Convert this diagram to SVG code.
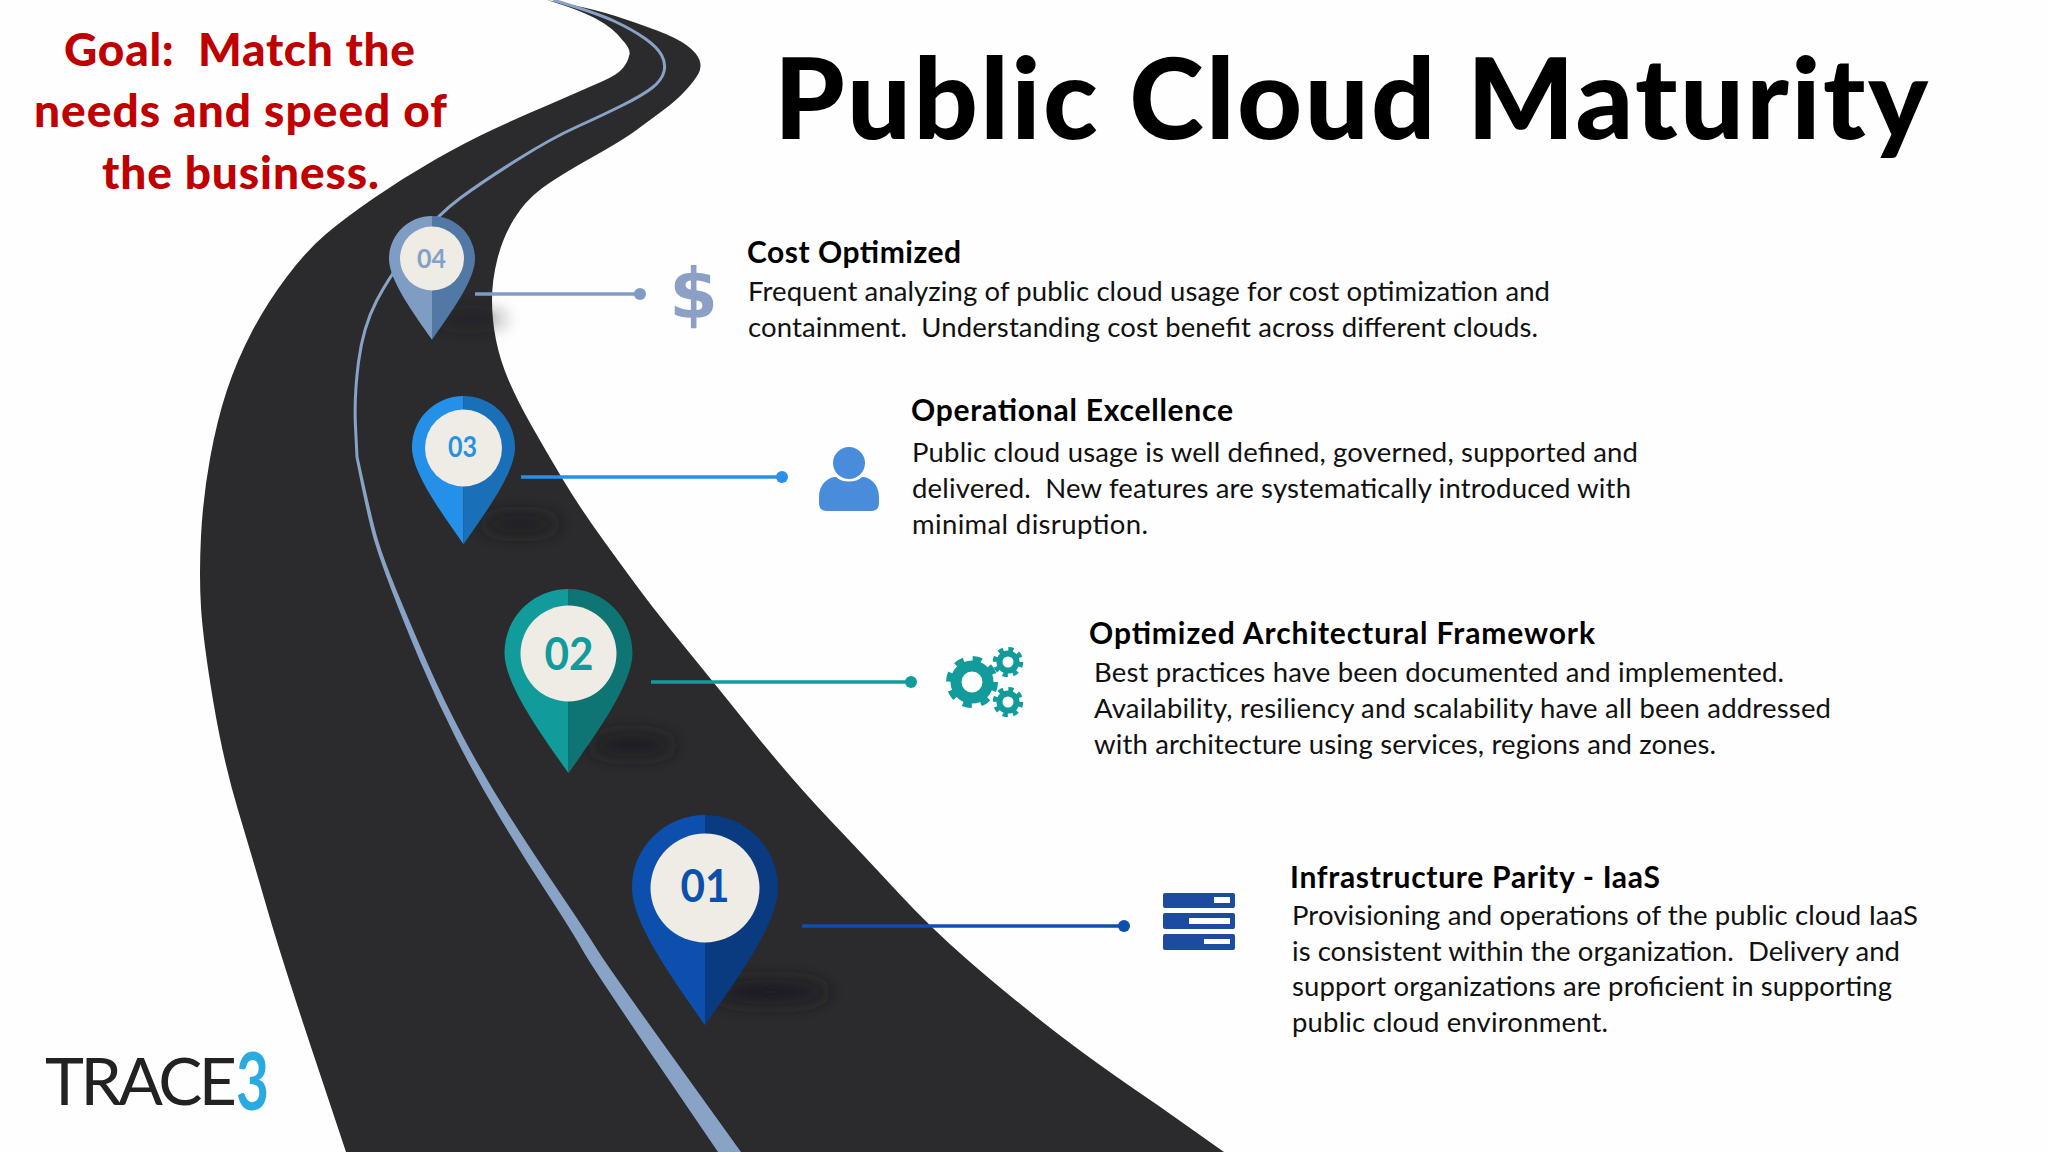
<svg xmlns="http://www.w3.org/2000/svg" width="2048" height="1152" viewBox="0 0 2048 1152">
<style>
text{font-family:Lato,"Open Sans","Liberation Sans",sans-serif;white-space:pre}
.title{font-size:113px;font-weight:900;fill:#000}
.goal{font-size:46px;font-weight:900;fill:#c00000}
.h{font-size:30px;font-weight:700;fill:#000}
.b{font-size:27.5px;fill:#111}
.num{font-weight:700;text-anchor:middle}
.inner{fill:#eeece4}
.lane{fill:#88a3c6}
</style>
<defs>
<path id="pinL" d="M0 0C-27.6 0-50 22-50 50C-50 75-20 115 0 144Z"/>
<path id="pinR" d="M0 0C27.6 0 50 22 50 50C50 75 20 115 0 144Z"/>
<filter id="blur" x="-50%" y="-150%" width="200%" height="400%"><feGaussianBlur stdDeviation="9"/></filter>
</defs>
<rect width="2048" height="1152" fill="#fefefe"/>
<g id="road">
<path fill="#2b2b2d" d="M547 0Q580 10 596.500 19Q613 28 621.500 39Q632 50 629 56Q628 62 622.500 68.500Q617 75 602 81.500Q587 88 570 95.500Q553 103 536.500 110Q520 117 493 129.500Q466 142 434.500 160Q403 178 374 198Q345 218 326 234Q307 250 287 276.500Q267 303 252 331.500Q237 360 227 390Q217 420 210 458.500Q203 497 201 536Q199 575 201 607.500Q203 640 213 700Q223 760 238 810Q253 860 267.500 910Q282 960 314 1056L346 1152L1224 1152L1157.500 1105Q1091 1060 1046.500 1025Q1002 990 966 958.500Q930 927 899 893.500Q868 860 830 820Q792 780 749 726.500Q706 673 681.500 643Q657 613 643.500 595Q630 577 605 542.500Q580 508 563.500 480.500Q547 453 532 426.500Q517 400 508.500 380Q500 360 496 340Q492 320 492 300Q492 280 497.500 258.500Q503 237 514 219Q525 201 541 189Q557 177 590 158.500Q623 140 636.500 130Q650 120 663.500 110Q677 100 686 90Q695 80 698.500 73.500Q702 67 699.500 60Q697 53 687 45.500Q677 38 657 30.500Q637 23 617 16.500Q597 10 572 5Z"/>
<path fill="none" stroke="#88a3c6" stroke-width="3" d="M553 0Q597 13 615 21.500Q633 30 645 38.500Q657 47 661.500 55Q666 63 664 71.500Q662 80 652.500 87.500Q643 95 623 105Q603 115 577.500 126.500Q552 138 518.500 159Q485 180 461 197.500Q437 215 413.500 245Q390 275 376.500 301Q363 327 358.500 362Q354 397 355.500 427L357 457"/>
<path class="lane" d="M355.500 457Q368 520 374 540Q380 560 392 591.500Q404 623 420.250 661.500Q436.500 700 456 738.500Q475.500 777 498.250 815Q521 853 547 893Q573 933 582.500 950Q592 967 655 1059.500L718 1152L741 1152L674.500 1059.500Q608 967 597.500 950Q587 933 560 893Q533 853 508.750 815Q484.500 777 464 738.500Q443.500 700 426.750 661.500Q410 623 397 591.500Q384 560 378 540Q372 520 358.500 457Z"/>
</g>
<g id="shadows" fill="#1f1f21">
<ellipse cx="470" cy="319" rx="36" ry="6" opacity=".7" filter="url(#blur)"/>
<ellipse cx="520" cy="524" rx="38" ry="9" filter="url(#blur)"/>
<ellipse cx="632" cy="745" rx="42" ry="11" filter="url(#blur)"/>
<ellipse cx="770" cy="992" rx="58" ry="12" filter="url(#blur)"/>
</g>
<g id="connectors" stroke-width="3.500">
<g id="c04" stroke="#7f9cc2" fill="#7f9cc2"><line x1="475" y1="294" x2="640" y2="294"/><circle cx="640" cy="294" r="6" stroke="none"/></g>
<g id="c03" stroke="#2a8fe6" fill="#2a8fe6"><line x1="521" y1="477" x2="782" y2="477"/><circle cx="782" cy="477" r="6" stroke="none"/></g>
<g id="c02" stroke="#129b9b" fill="#129b9b"><line x1="651" y1="682" x2="911" y2="682"/><circle cx="911" cy="682" r="6" stroke="none"/></g>
<g id="c01" stroke="#0d4fad" fill="#0d4fad"><line x1="802" y1="926" x2="1124" y2="926"/><circle cx="1124" cy="926" r="6" stroke="none"/></g>
</g>
<g id="pin04">
<g transform="translate(432 216) scale(.86)"><use href="#pinL" fill="#7f9cc2"/><use href="#pinR" fill="#5279a6"/></g>
<circle class="inner" cx="432" cy="258.500" r="32"/>
<text class="num" x="431.500" y="268" font-size="27" fill="#85a0c6" textLength="29" lengthAdjust="spacingAndGlyphs">04</text>
</g>
<g id="pin03">
<g transform="translate(463.500 396) scale(1.030)"><use href="#pinL" fill="#2590e8"/><use href="#pinR" fill="#1a70b8"/></g>
<circle class="inner" cx="463.500" cy="448" r="38.500"/>
<text class="num" x="462.500" y="457" font-size="28" fill="#2590e8" textLength="29" lengthAdjust="spacingAndGlyphs">03</text>
</g>
<g id="pin02">
<g transform="translate(568.500 589) scale(1.280)"><use href="#pinL" fill="#129b9b"/><use href="#pinR" fill="#0e7474"/></g>
<circle class="inner" cx="568.500" cy="653.500" r="48"/>
<text class="num" x="569" y="670" font-size="45" fill="#129b9b" textLength="49" lengthAdjust="spacingAndGlyphs">02</text>
</g>
<g id="pin01">
<g transform="translate(705 815) scale(1.460)"><use href="#pinL" fill="#0d4fad"/><use href="#pinR" fill="#0a3a80"/></g>
<circle class="inner" cx="705" cy="888" r="54.500"/>
<text class="num" x="705" y="902" font-size="46" fill="#0d4fad" textLength="49" lengthAdjust="spacingAndGlyphs">01</text>
</g>
<g id="icon-dollar"><text x="693.500" y="318" font-size="70" text-anchor="middle" fill="#8ba0c4" style="font-family:'DejaVu Sans',sans-serif;font-weight:700">$</text></g>
<g id="icon-person" fill="#4a8cdc">
<path d="M819 497C819 484 828 477 836 477C842 483 856 483 862 477C870 477 879 484 879 497L879 503Q879 511 871 511L827 511Q819 511 819 503Z"/>
<circle cx="849" cy="463" r="16"/>
</g>
<g id="icon-gears" fill="none" stroke="#129b9b">
<circle cx="972" cy="682" r="16" stroke-width="11"/>
<circle cx="972" cy="682" r="23" stroke-width="6" stroke-dasharray="9 9.060"/>
<circle cx="1008" cy="662" r="8.500" stroke-width="6"/>
<circle cx="1008" cy="662" r="13" stroke-width="4.500" stroke-dasharray="5.100 5.110"/>
<circle cx="1008" cy="702" r="8.500" stroke-width="6"/>
<circle cx="1008" cy="702" r="13" stroke-width="4.500" stroke-dasharray="5.100 5.110"/>
</g>
<g id="icon-server">
<rect x="1163" y="893" width="72" height="15" rx="2" fill="#1c4ba0"/><rect x="1214" y="897" width="16" height="6" fill="#fff"/>
<rect x="1163" y="913" width="72" height="16" rx="2" fill="#1c4ba0"/><rect x="1189" y="918" width="41" height="6" fill="#fff"/>
<rect x="1163" y="934" width="72" height="16" rx="2" fill="#1c4ba0"/><rect x="1204" y="939" width="26" height="5" fill="#fff"/>
</g>
<g id="goal">
<text class="goal" x="64" y="66" textLength="351" lengthAdjust="spacing">Goal:  Match the</text>
<text class="goal" x="34" y="127" textLength="413" lengthAdjust="spacing">needs and speed of</text>
<text class="goal" x="102" y="189" textLength="277" lengthAdjust="spacing">the business.</text>
</g>
<text class="title" x="774" y="139" textLength="1154" lengthAdjust="spacing">Public Cloud Maturity</text>
<g id="item04">
<text class="h" x="747" y="263" textLength="214" lengthAdjust="spacing">Cost Optimized</text>
<text class="b" x="748" y="301" textLength="802" lengthAdjust="spacing">Frequent analyzing of public cloud usage for cost optimization and</text>
<text class="b" x="748" y="337" textLength="790" lengthAdjust="spacing">containment.  Understanding cost benefit across different clouds.</text>
</g>
<g id="item03">
<text class="h" x="911" y="421" textLength="322" lengthAdjust="spacing">Operational Excellence</text>
<text class="b" x="912" y="462" textLength="726" lengthAdjust="spacing">Public cloud usage is well defined, governed, supported and</text>
<text class="b" x="912" y="498" textLength="719" lengthAdjust="spacing">delivered.  New features are systematically introduced with</text>
<text class="b" x="912" y="534" textLength="236" lengthAdjust="spacing">minimal disruption.</text>
</g>
<g id="item02">
<text class="h" x="1089" y="644" textLength="506" lengthAdjust="spacing">Optimized Architectural Framework</text>
<text class="b" x="1094" y="682" textLength="690" lengthAdjust="spacing">Best practices have been documented and implemented.</text>
<text class="b" x="1094" y="718" textLength="737" lengthAdjust="spacing">Availability, resiliency and scalability have all been addressed</text>
<text class="b" x="1094" y="754" textLength="622" lengthAdjust="spacing">with architecture using services, regions and zones.</text>
</g>
<g id="item01">
<text class="h" x="1290" y="888" textLength="370" lengthAdjust="spacing">Infrastructure Parity - IaaS</text>
<text class="b" x="1292" y="925" textLength="626" lengthAdjust="spacing">Provisioning and operations of the public cloud IaaS</text>
<text class="b" x="1292" y="961" textLength="608" lengthAdjust="spacing">is consistent within the organization.  Delivery and</text>
<text class="b" x="1292" y="996" textLength="600" lengthAdjust="spacing">support organizations are proficient in supporting</text>
<text class="b" x="1292" y="1032" textLength="316" lengthAdjust="spacing">public cloud environment.</text>
</g>
<g id="logo"><text x="45" y="1105" font-size="66" fill="#222" letter-spacing="-3.500">TRACE<tspan x="236" y="1110" font-size="80" font-weight="700" fill="#29abe2" letter-spacing="0" textLength="33" lengthAdjust="spacingAndGlyphs">3</tspan></text></g>
</svg>
